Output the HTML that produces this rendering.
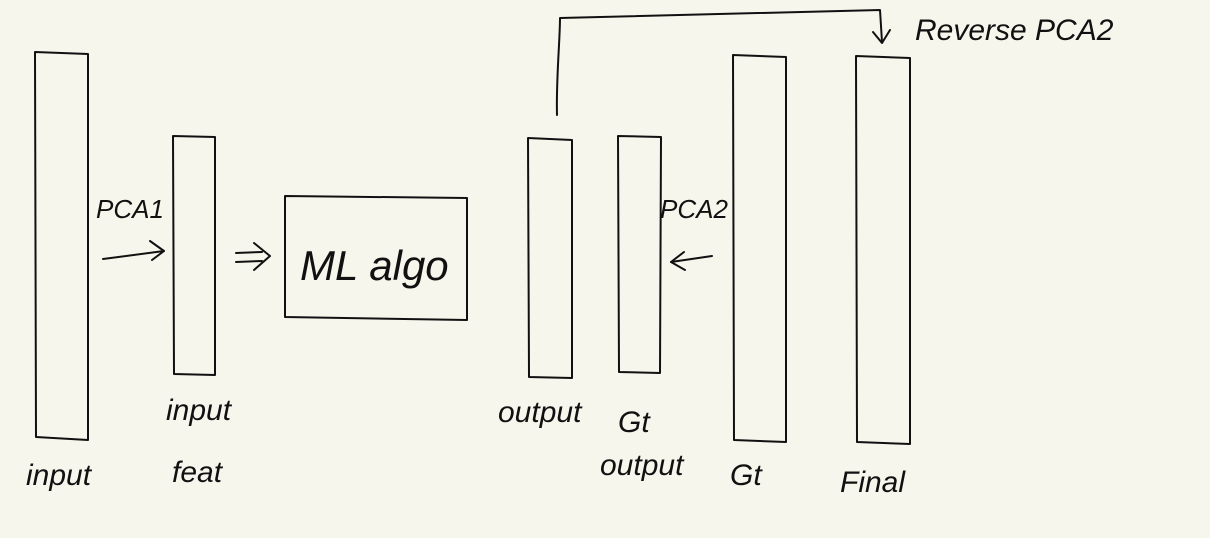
<!DOCTYPE html>
<html><head><meta charset="utf-8"><style>
html,body{margin:0;padding:0;background:#f7f6ec;}
svg{display:block}
text{font-family:"Liberation Sans",sans-serif;fill:#111;font-style:italic}
</style></head><body>
<svg width="1210" height="538" viewBox="0 0 1210 538" xmlns="http://www.w3.org/2000/svg">
<rect width="1210" height="538" fill="#f7f6ec"/>
<g fill="none" stroke="#111" stroke-width="2" stroke-linejoin="round" stroke-linecap="round">
<polygon points="35,52 88,54 88,440 36,437"/>
<polygon points="173,136 215,137 215,375 174,374"/>
<polygon points="285,196 467,198 467,320 285,317"/>
<polygon points="528,138 572,140 572,378 529,377"/>
<polygon points="618,136 661,137 660,373 619,372"/>
<polygon points="733,55 786,57 786,442 734,440"/>
<polygon points="856,56 910,58 910,444 857,442"/>
<path d="M557,115 C556,80 560,40 560,18 L880,10 L882,42"/>
<path d="M873,32 L882,43 L890,30"/>
<path d="M103,259 L164,251"/>
<path d="M150,241 L164,251 L152,260"/>
<path d="M712,256 L671,262"/>
<path d="M684,252 L671,262 L685,270"/>
<path d="M236,253 L262,252 M236,262 L262,261 M254,243 L270,256 L254,270"/>
</g>
<text x="96" y="218" font-size="26">PCA1</text>
<text x="660" y="218" font-size="26">PCA2</text>
<text x="300" y="280" font-size="42">ML algo</text>
<text x="915" y="40" font-size="30">Reverse PCA2</text>
<text x="26" y="485" font-size="30">input</text>
<text x="166" y="420" font-size="30">input</text>
<text x="172" y="482" font-size="30">feat</text>
<text x="498" y="422" font-size="30">output</text>
<text x="618" y="432" font-size="30">Gt</text>
<text x="600" y="475" font-size="30">output</text>
<text x="730" y="485" font-size="30">Gt</text>
<text x="840" y="492" font-size="30">Final</text>
</svg>
</body></html>
